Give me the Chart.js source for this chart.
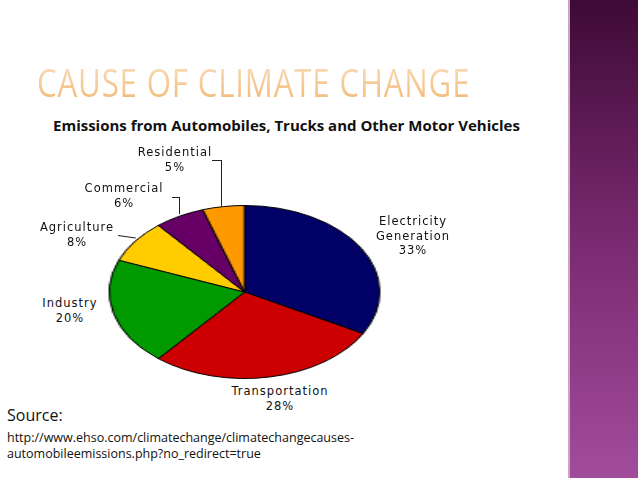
<!DOCTYPE html>
<html>
<head>
<meta charset="utf-8">
<script src="https://cdn.jsdelivr.net/npm/chart.js@4"></script>
<style>
  body { margin: 0; width: 638px; height: 478px; background: #fff; position: relative; overflow: hidden; font-family: "Open Sans", sans-serif; }
  .band { position: absolute; left: 568px; top: 0; width: 70px; height: 478px;
    background: linear-gradient(#3e0a36, #7a2a70 50%, #a24c9c); border-left: 2px solid #c9a6c4; }
  #title { position: absolute; left: 37px; top: 56px; font-size: 38px; white-space: nowrap; transform-origin: 0 0;
    background: linear-gradient(#f9e4c8, #f2b36a); -webkit-background-clip: text; color: transparent; letter-spacing: 1px; }
  .sub { position: absolute; left: 53px; top: 115px; font-size: 15px; font-weight: bold; color: #111; }
  .lbl { position: absolute; font-family: "DejaVu Sans", sans-serif; font-size: 11.5px; letter-spacing: 1px; color: #111; text-align: center; line-height: 14.5px; transform: translateX(-50%); white-space: nowrap; }
  .ln { position: absolute; border-color: #222; border-style: solid; border-width: 0; }
  #wrap { position: absolute; left: 107px; top: 204px; width: 176px; height: 176px; transform-origin: 0 0; transform: scaleX(1.5625); }
  .src { position: absolute; left: 7px; top: 404px; font-size: 16px; color: #111; }
  .url { position: absolute; left: 7px; top: 430px; font-size: 12.5px; color: #111; line-height: 15.5px; }
</style>
</head>
<body>
<div class="band"></div>
<div id="title">CAUSE OF CLIMATE CHANGE</div>
<div class="sub">Emissions from Automobiles, Trucks and Other Motor Vehicles</div>
<div id="wrap"><canvas id="chart" width="176" height="176"></canvas></div>
<div id="labels"></div>
<div class="ln" style="left:212px;top:160px;width:9px;height:45px;border-top-width:1px;border-right-width:1px;"></div>
<div class="ln" style="left:172px;top:197px;width:7px;height:16px;border-top-width:1px;border-right-width:1px;"></div>
<div class="ln" style="left:118px;top:235px;width:18px;height:4px;border-top-width:1px;transform:rotate(8deg);transform-origin:0 0;"></div>
<div class="src">Source:</div>
<div class="url">http://www.ehso.com/climatechange/climatechangecauses-<br>automobileemissions.php?no_redirect=true</div>
<script>
const categories = ['Electricity Generation', 'Transportation', 'Industry', 'Agriculture', 'Commercial', 'Residential'];
const shares = [33, 28, 20, 8, 6, 5];
const colors = ['#000066', '#cc0000', '#009900', '#ffcc00', '#660066', '#ff9900'];
const labelLines = [['Electricity', 'Generation'], ['Transportation'], ['Industry'], ['Agriculture'], ['Commercial'], ['Residential']];
const labelPos = [[413, 214], [280, 384], [70, 296], [77, 220], [124, 181], [175, 145]];

const t = document.getElementById('title');
t.style.transform = 'scaleX(' + (433 / t.offsetWidth) + ')';

const box = document.getElementById('labels');
categories.forEach((c, i) => {
    const d = document.createElement('div');
    d.className = 'lbl';
    d.style.left = labelPos[i][0] + 'px';
    d.style.top = labelPos[i][1] + 'px';
    d.innerHTML = labelLines[i].join('<br>') + '<br>' + shares[i] + '%';
    box.appendChild(d);
});

const ctx = document.getElementById('chart').getContext('2d');
new Chart(ctx, {
    type: 'pie',
    data: {
        labels: categories,
        datasets: [{
            data: shares,
            backgroundColor: colors,
            borderColor: '#000',
            borderWidth: 1
        }]
    },
    options: {
        responsive: false,
        animation: false,
        layout: { padding: 1 },
        plugins: { legend: { display: false }, tooltip: { enabled: false } }
    }
});
</script>
</body>
</html>
